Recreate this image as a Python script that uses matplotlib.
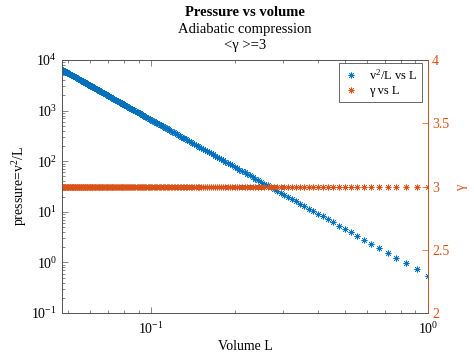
import numpy as np
import matplotlib
matplotlib.use("Agg")
import matplotlib.pyplot as plt
from matplotlib.ticker import LogLocator, FixedLocator, NullFormatter

# ---------------- data ----------------
# inverse volume 1/L for each sample point
inv_volume = [
    1.0, 1.1, 1.2, 1.3, 1.4, 1.5, 1.6, 1.7, 1.8, 1.9,
    2.0, 2.1, 2.2, 2.3, 2.4, 2.5, 2.6, 2.7, 2.8, 2.9,
    3.0, 3.1, 3.2, 3.3, 3.4, 3.5, 3.6, 3.7, 3.8, 3.9,
    4.0, 4.1, 4.2, 4.3, 4.4, 4.5, 4.6, 4.7, 4.8, 4.9,
    5.0, 5.1, 5.2, 5.3, 5.4, 5.5, 5.6, 5.7, 5.8, 5.9,
    6.0, 6.1, 6.2, 6.3, 6.4, 6.5, 6.6, 6.7, 6.8, 6.9,
    7.0, 7.1, 7.2, 7.3, 7.4, 7.5, 7.6, 7.7, 7.8, 7.9,
    8.0, 8.1, 8.2, 8.3, 8.4, 8.5, 8.6, 8.7, 8.8, 8.9,
    9.0, 9.1, 9.2, 9.3, 9.4, 9.5, 9.6, 9.7, 9.8, 9.9,
    10.0, 10.1, 10.2, 10.3, 10.4, 10.5, 10.6, 10.7, 10.8, 10.9,
    11.0, 11.1, 11.2, 11.3, 11.4, 11.5, 11.6, 11.7, 11.8, 11.9,
    12.0, 12.1, 12.2, 12.3, 12.4, 12.5, 12.6, 12.7, 12.8, 12.9,
    13.0, 13.1, 13.2, 13.3, 13.4, 13.5, 13.6, 13.7, 13.8, 13.9,
    14.0, 14.1, 14.2, 14.3, 14.4, 14.5, 14.6, 14.7, 14.8, 14.9,
    15.0, 15.1, 15.2, 15.3, 15.4, 15.5, 15.6, 15.7, 15.8, 15.9,
    16.0, 16.1, 16.2, 16.3, 16.4, 16.5, 16.6, 16.7, 16.8, 16.9,
    17.0, 17.1, 17.2, 17.3, 17.4, 17.5, 17.6, 17.7, 17.8, 17.9,
    18.0, 18.1, 18.2, 18.3, 18.4, 18.5, 18.6, 18.7, 18.8, 18.9,
    19.0, 19.1, 19.2, 19.3, 19.4, 19.5, 19.6, 19.7, 19.8, 19.9,
    20.0, 20.1, 20.2, 20.3, 20.4, 20.5, 20.6, 20.7, 20.8, 20.9,
    21.0,
]

# pressure v^2/L at each point
pressure = [
    0.546, 0.732, 0.957, 1.22, 1.54, 1.9, 2.32, 2.8, 3.34, 3.94,
    4.62, 5.36, 6.19, 7.1, 8.09, 9.18, 10.4, 11.6, 13, 14.5,
    16.1, 17.8, 19.6, 21.6, 23.7, 25.9, 28.2, 30.7, 33.3, 36.1,
    39, 42.1, 45.4, 48.8, 52.3, 56.1, 60, 64.1, 68.4, 72.9,
    77.6, 82.5, 87.6, 92.8, 98.3, 104, 110, 116, 123, 129,
    136, 143, 151, 158, 166, 174, 182, 191, 200, 209,
    219, 228, 239, 249, 260, 271, 282, 293, 305, 317,
    330, 343, 356, 370, 384, 398, 412, 427, 443, 458,
    474, 491, 508, 525, 542, 560, 579, 597, 617, 636,
    656, 677, 697, 719, 740, 763, 785, 808, 832, 856,
    880, 905, 930, 956, 982, 1010, 1040, 1060, 1090, 1120,
    1150, 1180, 1210, 1240, 1270, 1310, 1340, 1370, 1400, 1440,
    1470, 1510, 1540, 1580, 1620, 1650, 1690, 1730, 1770, 1810,
    1850, 1890, 1930, 1970, 2020, 2060, 2100, 2150, 2190, 2240,
    2290, 2330, 2380, 2430, 2480, 2530, 2580, 2630, 2680, 2740,
    2790, 2840, 2900, 2950, 3010, 3070, 3130, 3180, 3240, 3300,
    3360, 3420, 3490, 3550, 3610, 3680, 3740, 3810, 3880, 3940,
    4010, 4080, 4150, 4220, 4290, 4360, 4440, 4510, 4590, 4660,
    4740, 4810, 4890, 4970, 5050, 5130, 5210, 5300, 5380, 5460,
    5550, 5630, 5720, 5810, 5900, 5990, 6080, 6170, 6260, 6350,
    6450,
]

# adiabatic index gamma at each point (constant 3 in the picture)
gamma_value = 3.0
gamma = [gamma_value] * len(inv_volume)

series_labels = ["v$^2$/L vs L", "\u03b3 vs L"]
title_lines = ["Pressure vs volume", "Adiabatic compression", "<\u03b3 >=3"]

volume = 1.0 / np.asarray(inv_volume)

# ---------------- style ----------------
plt.rcParams["font.family"] = ["Liberation Serif", "DejaVu Serif"]
plt.rcParams["mathtext.fontset"] = "custom"
plt.rcParams["mathtext.rm"] = "Liberation Serif"
plt.rcParams["mathtext.it"] = "Liberation Serif:italic"
plt.rcParams["mathtext.bf"] = "Liberation Serif:bold"
plt.rcParams["mathtext.default"] = "regular"

BLUE = "#0072BD"
ORANGE = "#D95319"
AXC = "#555555"

W, H = 474, 355
fig = plt.figure(figsize=(W / 100, H / 100), dpi=100)
ax = fig.add_axes([62 / W, 1 - 313 / H, (428 - 62) / W, (313 - 60) / H])
ax2 = ax.twinx()

ast = (8, 2, 0)
h1, = ax.plot(volume, pressure, linestyle="none", marker=ast, markersize=4.3,
              markeredgewidth=0.5, color=BLUE)
h2, = ax2.plot(volume, gamma, linestyle="none", marker=ast, markersize=4.3,
               markeredgewidth=0.5, color=ORANGE)

ax.set_xscale("log")
ax.set_yscale("log")
ax.set_xlim(volume.min(), volume.max())
ax.set_ylim(1e-1, 1e4)
ax2.set_ylim(2, 4)

ax.xaxis.set_major_locator(LogLocator(base=10, numticks=10))
ax.xaxis.set_minor_locator(LogLocator(base=10, subs=np.arange(2, 10), numticks=20))
ax.xaxis.set_minor_formatter(NullFormatter())
ax.yaxis.set_major_locator(LogLocator(base=10, numticks=10))
ax.yaxis.set_minor_locator(LogLocator(base=10, subs=np.arange(2, 10), numticks=20))
ax.yaxis.set_minor_formatter(NullFormatter())
ax2.yaxis.set_major_locator(FixedLocator([2, 2.5, 3, 3.5, 4]))
ax2.set_yticklabels(["2", "2.5", "3", "3.5", "4"])

for a in (ax, ax2):
    for s in a.spines.values():
        s.set_linewidth(0.6)
        s.set_color(AXC)
ax2.spines["right"].set_color(ORANGE)

ax.tick_params(axis="both", which="both", direction="in", top=True, right=False,
               colors=AXC, labelcolor="black", labelsize=10, width=0.5)
ax.tick_params(which="major", length=4)
ax.tick_params(which="minor", length=2)
ax.tick_params(axis="x", pad=6)
ax2.tick_params(axis="y", which="both", direction="in", colors=ORANGE,
                labelcolor=ORANGE, labelsize=10, length=4, width=0.5, pad=3)

ax.set_xlabel("Volume L", fontsize=10, labelpad=2)
ax.set_ylabel("pressure=v$^2$/L", fontsize=10, labelpad=2)
ax2.set_ylabel("\u03b3", fontsize=10, color=ORANGE, labelpad=4)

fig.text(0.5 * (62 + 428) / W, 1 - 12 / H, title_lines[0], ha="center", va="center",
         fontsize=10.5, fontweight="bold")
fig.text(0.5 * (62 + 428) / W, 1 - 30 / H, title_lines[1], ha="center", va="center",
         fontsize=10.5)
fig.text(0.5 * (62 + 428) / W, 1 - 46 / H, title_lines[2], ha="center", va="center",
         fontsize=10.5)

leg = ax2.legend([h1, h2], series_labels, loc="upper right",
                 bbox_to_anchor=(1 - 6 / 366, 1 - 3 / 253), borderaxespad=0,
                 fontsize=9, frameon=True, fancybox=False, handlelength=1.2,
                 handletextpad=0.8, borderpad=0.4, labelspacing=0.2)
leg.get_frame().set_edgecolor("#222222")
leg.get_frame().set_linewidth(0.6)

fig.savefig("out.png", dpi=100)
